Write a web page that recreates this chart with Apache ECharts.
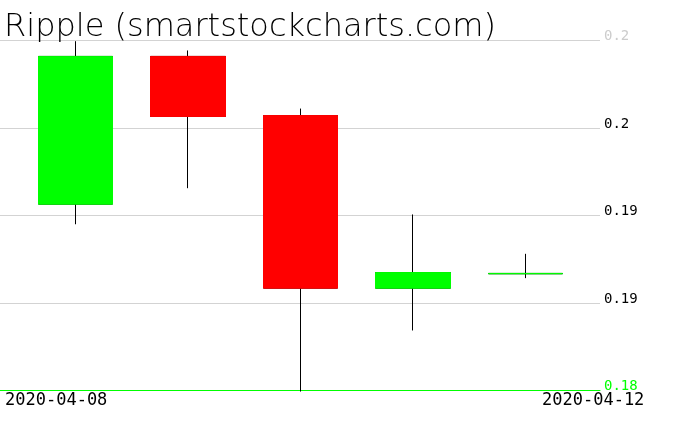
<!DOCTYPE html>
<html>
<head>
    <meta charset="UTF-8">
    <title>Ripple</title>
    <script src="https://cdn.jsdelivr.net/npm/echarts@6/dist/echarts.min.js"></script>
    <style>
        html, body { margin: 0; padding: 0; background: #fff; }
    </style>
</head>
<body>
    <div id="main" style="width: 676px;height:431px;"></div>
    <script type="text/javascript">
        var myChart = echarts.init(document.getElementById('main'));

        // data
        var dates = ['2020-04-08', '2020-04-09', '2020-04-10', '2020-04-11', '2020-04-12'];
        var opens = [0.19065, 0.19909, 0.19571, 0.18585, 0.18667];
        var closes = [0.19909, 0.19566, 0.18585, 0.18674, 0.18669];
        var lows = [0.18950, 0.19156, 0.17994, 0.18343, 0.18642];
        var highs = [0.19996, 0.19943, 0.19611, 0.19006, 0.18781];

        // y tick labels, bottom to top (the site rounds to 2 decimals)
        var yTickLabels = ['0.18', '0.19', '0.19', '0.2', '0.2'];
        var yTickColors = ['#00ff00', '#000000', '#000000', '#000000', '#cccccc'];

        // full candles: black wicks (body outline gets covered below)
        var wickData = dates.map(function (d, i) {
            return [opens[i], closes[i], lows[i], highs[i]];
        });
        // bodies only, drawn on top in red/green
        var bodyData = dates.map(function (d, i) {
            return [opens[i], closes[i], Math.min(opens[i], closes[i]), Math.max(opens[i], closes[i])];
        });

        var option = {
            animation: false,
            backgroundColor: '#ffffff',
            title: {
                text: 'Ripple (smartstockcharts.com)',
                left: 4,
                top: 12,
                padding: 0,
                textStyle: {
                    fontFamily: 'DejaVu Sans',
                    fontWeight: 200,
                    fontSize: 32,
                    color: '#000'
                }
            },
            grid: [
                { left: 0, right: 76, top: 40.5, height: 350 },
                { left: 19.25, width: 562.5, top: 40.5, height: 350 }
            ],
            xAxis: [
                {
                    type: 'value',
                    gridIndex: 0,
                    min: 0,
                    max: 1,
                    axisLine: { show: true, onZero: false, lineStyle: { color: '#00ff00', width: 1 } },
                    axisTick: { show: false },
                    axisLabel: { show: false },
                    splitLine: { show: false }
                },
                {
                    type: 'category',
                    gridIndex: 1,
                    data: dates,
                    show: false
                }
            ],
            yAxis: [
                {
                    type: 'value',
                    gridIndex: 0,
                    position: 'right',
                    min: 0.18,
                    max: 0.2,
                    interval: 0.005,
                    axisLine: { show: false },
                    axisTick: { show: false },
                    splitLine: { show: true, lineStyle: { color: '#d3d3d3', width: 1 } },
                    axisLabel: {
                        margin: 4,
                        fontFamily: 'DejaVu Sans Mono',
                        fontSize: 14,
                        verticalAlign: 'bottom',
                        lineHeight: 8,
                        formatter: function (v, i) { return yTickLabels[i]; },
                        color: function (v, i) { return yTickColors[i]; }
                    }
                },
                {
                    type: 'value',
                    gridIndex: 1,
                    min: 0.18,
                    max: 0.2,
                    show: false
                }
            ],
            series: [
                {
                    name: 'wick',
                    type: 'candlestick',
                    xAxisIndex: 1,
                    yAxisIndex: 1,
                    barWidth: 75,
                    z: 2,
                    data: wickData,
                    itemStyle: {
                        color: '#00ff00',
                        color0: '#ff0000',
                        borderColor: '#000000',
                        borderColor0: '#000000',
                        borderWidth: 1
                    }
                },
                {
                    name: 'body',
                    type: 'candlestick',
                    xAxisIndex: 1,
                    yAxisIndex: 1,
                    barWidth: 75,
                    z: 3,
                    data: bodyData,
                    itemStyle: {
                        color: '#00ff00',
                        color0: '#ff0000',
                        borderColor: '#00ff00',
                        borderColor0: '#ff0000',
                        borderWidth: 1
                    }
                }
            ],
            graphic: [
                {
                    type: 'text',
                    left: 5,
                    top: 392,
                    style: { text: dates[0], fontFamily: 'DejaVu Sans Mono', fontSize: 17, fill: '#000' }
                },
                {
                    type: 'text',
                    left: 542,
                    top: 392,
                    style: { text: dates[dates.length - 1], fontFamily: 'DejaVu Sans Mono', fontSize: 17, fill: '#000' }
                }
            ]
        };

        myChart.setOption(option);
    </script>
</body>
</html>
